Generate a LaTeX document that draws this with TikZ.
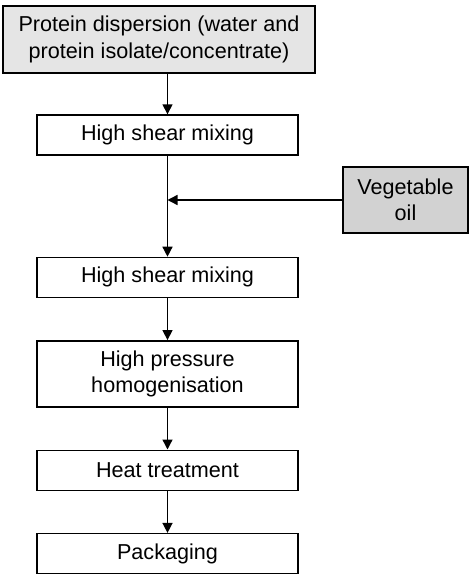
\documentclass[tikz,border=0pt]{standalone}
\usepackage{fontspec}
\setmainfont{Liberation Sans}
\usetikzlibrary{positioning,arrows.meta}

\begin{document}
\begin{tikzpicture}[
  >={Triangle[length=10pt,width=10pt]},
  node distance=42pt,
  stage/.style={rectangle, draw=black, line width=1.4pt, fill=white, align=center, font=\fontsize{21.6}{26.5}\selectfont, minimum width=261pt, minimum height=40pt, inner sep=2pt},
  feed/.style={stage, fill=gray!20, minimum width=312pt, minimum height=67pt},
  addin/.style={stage, fill=gray!35, minimum width=125pt, minimum height=66pt},
  flow/.style={->, line width=1.4pt}
]
\useasboundingbox (0,0) rectangle (474pt,-574pt);

\node[feed] (disp) at (159pt,-39.5pt) {Protein dispersion (water and\\protein isolate/concentrate)};
\node[stage] (mix1) at (167.5pt,-135pt) {High shear mixing};
\node[stage, below=101pt of mix1] (mix2) {High shear mixing};
\node[stage, below=of mix2, minimum height=66pt] (hph) {High pressure\\homogenisation};
\node[stage, below=of hph] (heat) {Heat treatment};
\node[stage, below=of heat] (pack) {Packaging};

\node[addin] (oil) at (405.5pt,-200pt) {Vegetable\\oil};

\draw[flow] (disp.south -| mix1) -- (mix1);
\draw[flow] (mix1) -- (mix2);
\draw[flow] (oil.west) -- (oil.west -| mix1.south);
\draw[flow] (mix2) -- (hph);
\draw[flow] (hph) -- (heat);
\draw[flow] (heat) -- (pack);
\end{tikzpicture}
\end{document}
